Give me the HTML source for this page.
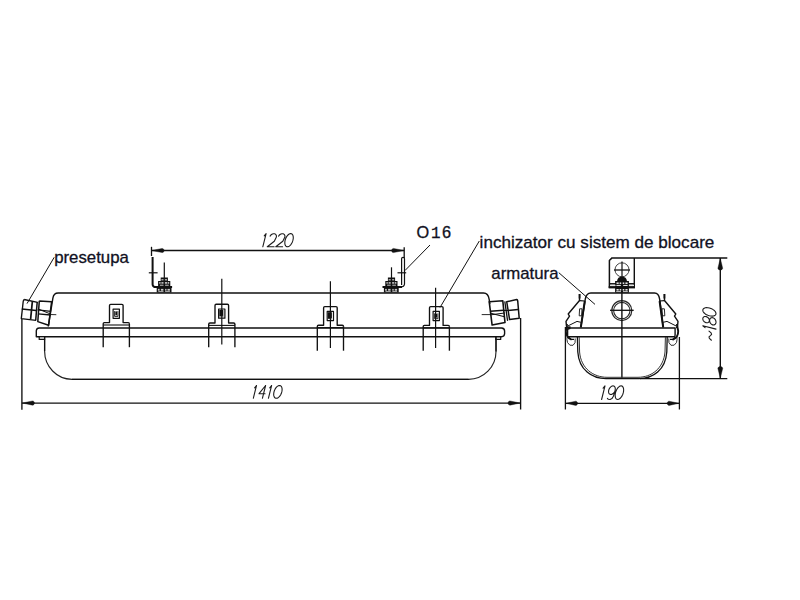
<!DOCTYPE html>
<html><head><meta charset="utf-8">
<style>
html,body{margin:0;padding:0;background:#fff;width:800px;height:600px;overflow:hidden}
svg{display:block;position:absolute;left:0;top:0}
</style></head><body>
<svg width="800" height="600" viewBox="0 0 800 600">
<rect width="800" height="600" fill="#fff"/>
<g fill="none" stroke="#111" stroke-width="1.2" stroke-linecap="butt" stroke-linejoin="round">
<path d="M48.3,326.5 L52.9,298 Q53.7,293 58.2,293 L483.5,293 Q488.3,293 489.2,299.5 L489.8,304" stroke-width="1.45"/>
<path d="M36.3,336.7 L36.3,330.8 Q36.6,328 39.3,328 L501.5,328 Q504.6,328.2 504.6,331 L504.6,333.8 Q504.4,336.7 501.5,336.7 Z" stroke-width="1.4"/>
<path d="M39.2,336.7 L39.2,339.4 L44.6,339.4 L44.6,336.7" stroke-width="1.2"/>
<rect x="40" y="337.3" width="4" height="1.6" fill="#bbb" stroke="none"/>
<path d="M495.8,336.7 L495.8,339.4 L500.7,339.4 L500.7,336.7" stroke-width="1.2"/>
<path d="M44.6,339 L44.6,351 A27.4,28.3 0 0 0 72,379.3 L468.5,379.3 A27.5,27.8 0 0 0 496,351.5 L496,339" stroke-width="1.15" stroke="#222"/>
<line x1="72.00" y1="379.30" x2="468.50" y2="379.30" stroke-width="1.35"/>
<line x1="44.60" y1="337.00" x2="44.60" y2="351.00" stroke-width="1.30"/>
<line x1="496.00" y1="337.00" x2="496.00" y2="351.50" stroke-width="1.30"/>
<path d="M103.20,347.20 L103.20,323.80 Q103.20,322.60 104.40,322.60 L109.50,322.60 L109.50,305.50 Q109.50,304.30 110.70,304.30 L121.90,304.30 Q123.10,304.30 123.10,305.50 L123.10,322.60 L128.20,322.60 Q129.40,322.60 129.40,323.80" stroke-width="1.35"/>
<line x1="129.40" y1="323.60" x2="129.40" y2="347.20" stroke-width="1.35"/>
<line x1="103.20" y1="325.00" x2="129.40" y2="325.00" stroke-width="1.10"/>
<rect x="113.10" y="309.10" width="6.3" height="9.2" stroke-width="1.2"/>
<path d="M114.60,311.10 L114.60,316.40 L117.90,316.40 L117.90,311.10" stroke-width="0.9"/>
<line x1="116.20" y1="311.40" x2="116.20" y2="315.30" stroke-width="1.70"/>
<path d="M208.70,347.20 L208.70,324.20 Q208.70,323.00 209.90,323.00 L215.00,323.00 L215.00,305.40 Q215.00,304.20 216.20,304.20 L227.40,304.20 Q228.60,304.20 228.60,305.40 L228.60,323.00 L233.70,323.00 Q234.90,323.00 234.90,324.20" stroke-width="1.35"/>
<line x1="234.90" y1="324.00" x2="234.90" y2="347.20" stroke-width="1.35"/>
<line x1="208.70" y1="325.40" x2="234.90" y2="325.40" stroke-width="1.10"/>
<rect x="218.60" y="309.00" width="6.3" height="9.2" stroke-width="1.2"/>
<rect x="219.30" y="309.80" width="4" height="6.6" fill="#111" stroke="none"/>
<rect x="221.80" y="315.80" width="1.6" height="1.4" fill="#999" stroke="none"/>
<line x1="221.80" y1="278.80" x2="221.80" y2="344.40" stroke-width="1.20"/>
<path d="M317.30,350.70 L317.30,326.40 Q317.30,325.20 318.50,325.20 L323.60,325.20 L323.60,307.80 Q323.60,306.60 324.80,306.60 L336.00,306.60 Q337.20,306.60 337.20,307.80 L337.20,325.20 L342.30,325.20 Q343.50,325.20 343.50,326.40" stroke-width="1.35"/>
<line x1="343.50" y1="326.20" x2="343.50" y2="350.70" stroke-width="1.35"/>
<line x1="317.30" y1="327.60" x2="343.50" y2="327.60" stroke-width="1.10"/>
<rect x="327.20" y="311.40" width="6.3" height="9.2" stroke-width="1.2"/>
<rect x="327.90" y="312.20" width="4" height="6.6" fill="#111" stroke="none"/>
<rect x="330.40" y="318.20" width="1.6" height="1.4" fill="#999" stroke="none"/>
<line x1="330.40" y1="281.30" x2="330.40" y2="347.90" stroke-width="1.20"/>
<path d="M423.20,350.70 L423.20,326.60 Q423.20,325.40 424.40,325.40 L429.50,325.40 L429.50,307.80 Q429.50,306.60 430.70,306.60 L441.90,306.60 Q443.10,306.60 443.10,307.80 L443.10,325.40 L448.20,325.40 Q449.40,325.40 449.40,326.60" stroke-width="1.35"/>
<line x1="449.40" y1="326.40" x2="449.40" y2="350.70" stroke-width="1.35"/>
<line x1="423.20" y1="327.80" x2="449.40" y2="327.80" stroke-width="1.10"/>
<rect x="433.10" y="311.40" width="6.3" height="9.2" stroke-width="1.2"/>
<path d="M434.60,313.40 L434.60,318.70 L437.90,318.70 L437.90,313.40" stroke-width="0.9"/>
<line x1="436.20" y1="313.70" x2="436.20" y2="317.60" stroke-width="1.70"/>
<line x1="435.60" y1="287.70" x2="435.60" y2="347.90" stroke-width="1.20"/>
<path d="M160.70,277.40 L167.90,277.40 L167.90,281.10 L170.30,281.10 L170.30,286.10 L172.10,286.10 L172.10,287.90 L171.50,287.90 L171.50,292.60 L156.70,292.60 L156.70,287.90 L153.80,287.90 L153.80,286.10 L158.10,286.10 L158.10,281.10 L160.70,281.10 Z" fill="#111" stroke="none"/>
<rect x="161.40" y="279.20" width="2.10" height="1.20" fill="#c8c8c8" stroke="none"/>
<rect x="164.90" y="279.20" width="2.10" height="1.20" fill="#c8c8c8" stroke="none"/>
<rect x="159.20" y="282.10" width="1.40" height="1.60" fill="#c8c8c8" stroke="none"/>
<rect x="161.40" y="282.10" width="2.10" height="1.60" fill="#c8c8c8" stroke="none"/>
<rect x="164.90" y="282.10" width="2.10" height="1.60" fill="#c8c8c8" stroke="none"/>
<rect x="167.60" y="282.10" width="1.60" height="1.60" fill="#c8c8c8" stroke="none"/>
<rect x="159.90" y="284.70" width="3.60" height="1.00" fill="#c8c8c8" stroke="none"/>
<rect x="165.10" y="284.70" width="3.60" height="1.00" fill="#c8c8c8" stroke="none"/>
<rect x="157.90" y="288.90" width="1.70" height="1.80" fill="#c8c8c8" stroke="none"/>
<rect x="160.90" y="288.90" width="2.50" height="1.80" fill="#c8c8c8" stroke="none"/>
<rect x="165.10" y="288.90" width="1.40" height="1.80" fill="#c8c8c8" stroke="none"/>
<rect x="167.50" y="288.90" width="2.40" height="1.80" fill="#c8c8c8" stroke="none"/>
<rect x="158.30" y="291.00" width="5.20" height="0.80" fill="#c8c8c8" stroke="none"/>
<rect x="165.10" y="291.00" width="4.80" height="0.80" fill="#c8c8c8" stroke="none"/>
<line x1="164.30" y1="262.50" x2="164.30" y2="278.00" stroke-width="1.20"/>
<path d="M387.90,277.40 L395.10,277.40 L395.10,281.10 L397.50,281.10 L397.50,286.10 L402.00,286.10 L402.00,287.90 L398.70,287.90 L398.70,292.60 L383.90,292.60 L383.90,287.90 L382.50,287.90 L382.50,286.10 L385.30,286.10 L385.30,281.10 L387.90,281.10 Z" fill="#111" stroke="none"/>
<rect x="388.60" y="279.20" width="2.10" height="1.20" fill="#c8c8c8" stroke="none"/>
<rect x="392.10" y="279.20" width="2.10" height="1.20" fill="#c8c8c8" stroke="none"/>
<rect x="386.40" y="282.10" width="1.40" height="1.60" fill="#c8c8c8" stroke="none"/>
<rect x="388.60" y="282.10" width="2.10" height="1.60" fill="#c8c8c8" stroke="none"/>
<rect x="392.10" y="282.10" width="2.10" height="1.60" fill="#c8c8c8" stroke="none"/>
<rect x="394.80" y="282.10" width="1.60" height="1.60" fill="#c8c8c8" stroke="none"/>
<rect x="387.10" y="284.70" width="3.60" height="1.00" fill="#c8c8c8" stroke="none"/>
<rect x="392.30" y="284.70" width="3.60" height="1.00" fill="#c8c8c8" stroke="none"/>
<rect x="385.10" y="288.90" width="1.70" height="1.80" fill="#c8c8c8" stroke="none"/>
<rect x="388.10" y="288.90" width="2.50" height="1.80" fill="#c8c8c8" stroke="none"/>
<rect x="392.30" y="288.90" width="1.40" height="1.80" fill="#c8c8c8" stroke="none"/>
<rect x="394.70" y="288.90" width="2.40" height="1.80" fill="#c8c8c8" stroke="none"/>
<rect x="385.50" y="291.00" width="5.20" height="0.80" fill="#c8c8c8" stroke="none"/>
<rect x="392.30" y="291.00" width="4.80" height="0.80" fill="#c8c8c8" stroke="none"/>
<line x1="391.50" y1="267.30" x2="391.50" y2="278.00" stroke-width="1.20"/>
<path d="M152.6,257 L152.6,284.5 Q152.8,287 155.5,287" stroke-width="2.0"/>
<line x1="148.80" y1="272.80" x2="157.60" y2="272.80" stroke-width="1.20"/>
<path d="M401.6,285 L401.6,258.8 Q401.6,257.4 403,257.4 Q404.5,257.4 404.5,258.8 L404.5,284 Q404.3,287 400.5,287" stroke-width="1.2"/>
<line x1="397.50" y1="272.80" x2="406.20" y2="272.80" stroke-width="1.20"/>
<g stroke-linejoin="round">
<path d="M24.2,299.5 L37.6,302.3 M24.2,299.5 Q23.4,300.2 23.2,301.5 L21.3,318.6 L36,320.4" stroke-width="1.35"/>
<line x1="32.40" y1="301.20" x2="30.60" y2="319.20" stroke-width="1.70"/>
<line x1="37.20" y1="302.00" x2="35.70" y2="320.40" stroke-width="1.50"/>
<line x1="21.80" y1="309.00" x2="36.20" y2="310.50" stroke-width="1.60"/>
<path d="M39.3,300.9 L51.6,301.8 L48.6,325.2 L37.8,321.6 L39.3,300.9" stroke-width="1.5"/>
<line x1="37.60" y1="309.90" x2="51.00" y2="311.40" stroke-width="1.40"/>
<line x1="38.00" y1="313.80" x2="50.50" y2="315.00" stroke-width="1.30"/>
<line x1="39.00" y1="309.30" x2="50.00" y2="313.80" stroke-width="1.00"/>
</g>
<line x1="49.50" y1="314.50" x2="56.30" y2="314.70" stroke-width="0.90"/>
<g stroke-linejoin="round">
<path d="M489.2,301.7 L502.8,300.8 L505,322.5 L492.1,325 Z" stroke-width="1.6"/>
<line x1="490.30" y1="311.20" x2="503.80" y2="310.20" stroke-width="1.50"/>
<line x1="490.80" y1="313.30" x2="504.50" y2="316.80" stroke-width="1.10"/>
<line x1="491.00" y1="314.80" x2="504.60" y2="313.00" stroke-width="1.00"/>
<line x1="504.80" y1="301.40" x2="507.60" y2="320.80" stroke-width="1.30"/>
<line x1="503.50" y1="310.30" x2="508.50" y2="310.50" stroke-width="1.20"/>
<path d="M506.7,301.7 L516.7,299.6 Q517.5,299.8 517.7,300.8 L519.2,318.3 L509.6,319.6 Z" stroke-width="1.5"/>
<line x1="508.20" y1="310.50" x2="518.00" y2="309.60" stroke-width="1.50"/>
</g>
<line x1="481.70" y1="314.60" x2="491.00" y2="314.60" stroke-width="0.90"/>
<line x1="21.90" y1="319.00" x2="21.90" y2="409.70" stroke-width="1.35"/>
<line x1="520.60" y1="318.00" x2="520.60" y2="409.50" stroke-width="1.35"/>
<line x1="21.90" y1="403.05" x2="520.60" y2="403.05" stroke-width="1.35"/>
<path d="M22.30,403.05 L32.54,400.95 C35.10,401.16 35.10,404.94 32.54,405.15 Z" fill="#111" stroke="#111" stroke-width="0.4"/>
<path d="M520.20,403.05 L509.96,405.15 C507.40,404.94 507.40,401.16 509.96,400.95 Z" fill="#111" stroke="#111" stroke-width="0.4"/>
<line x1="151.50" y1="246.80" x2="151.50" y2="256.00" stroke-width="1.30"/>
<line x1="404.20" y1="247.30" x2="404.20" y2="258.00" stroke-width="1.30"/>
<line x1="151.50" y1="250.50" x2="404.20" y2="250.50" stroke-width="1.35"/>
<path d="M151.90,250.50 L162.14,248.40 C164.70,248.61 164.70,252.39 162.14,252.60 Z" fill="#111" stroke="#111" stroke-width="0.4"/>
<path d="M403.80,250.50 L393.56,252.60 C391.00,252.39 391.00,248.61 393.56,248.40 Z" fill="#111" stroke="#111" stroke-width="0.4"/>
<path d="M609.4,288 L609.4,260.5 L612,257.9 L727.3,257.9" stroke-width="1.5"/>
<line x1="634.30" y1="257.90" x2="634.30" y2="288.00" stroke-width="1.40"/>
<line x1="609.40" y1="283.80" x2="634.30" y2="283.80" stroke-width="1.50"/>
<rect x="608.7" y="286.1" width="26.3" height="2.3" fill="#111" stroke="none"/>
<circle cx="622" cy="269.8" r="7.0" stroke-width="1.0" stroke="#444"/>
<line x1="614.00" y1="270.00" x2="630.00" y2="270.00" stroke-width="1.30"/>
<path d="M617,281.2 Q617.5,276.8 622,276.8 Q626.5,276.8 627,281.2 Z" fill="#111" stroke="none"/>
<rect x="615.1" y="281" width="13.8" height="11.6" fill="#111" stroke="none"/>
<rect x="616.50" y="282.40" width="2.20" height="1.60" fill="#e4e4e4" stroke="none"/>
<rect x="619.60" y="282.40" width="1.60" height="1.60" fill="#e4e4e4" stroke="none"/>
<rect x="622.70" y="282.40" width="1.60" height="1.60" fill="#e4e4e4" stroke="none"/>
<rect x="625.40" y="282.40" width="2.20" height="1.60" fill="#e4e4e4" stroke="none"/>
<rect x="610.50" y="284.90" width="5.00" height="1.10" fill="#e4e4e4" stroke="none"/>
<rect x="616.40" y="284.90" width="4.40" height="1.10" fill="#e4e4e4" stroke="none"/>
<rect x="623.20" y="284.90" width="4.40" height="1.10" fill="#e4e4e4" stroke="none"/>
<rect x="629.00" y="284.90" width="5.00" height="1.10" fill="#e4e4e4" stroke="none"/>
<rect x="616.50" y="289.00" width="2.20" height="1.60" fill="#e4e4e4" stroke="none"/>
<rect x="619.60" y="289.00" width="1.60" height="1.60" fill="#e4e4e4" stroke="none"/>
<rect x="622.70" y="289.00" width="1.60" height="1.60" fill="#e4e4e4" stroke="none"/>
<rect x="625.40" y="289.00" width="2.20" height="1.60" fill="#e4e4e4" stroke="none"/>
<rect x="616.20" y="291.20" width="4.80" height="0.80" fill="#e4e4e4" stroke="none"/>
<rect x="623.00" y="291.20" width="4.80" height="0.80" fill="#e4e4e4" stroke="none"/>
<line x1="622.00" y1="261.50" x2="622.00" y2="277.00" stroke-width="1.20"/>
<path d="M580.8,327.3 L585.3,299 Q586.5,293 590.8,293 L654.5,293 Q658.7,293 659.6,299 L663.2,327.3" stroke-width="1.45"/>
<path d="M584.8,301 L580.8,327.3 M659.6,301 L663.2,327.3" stroke-width="2.0"/>
<circle cx="621.8" cy="310.6" r="10.0" stroke-width="1.2" stroke="#2a2a2a"/>
<circle cx="621.8" cy="310.6" r="8.2" stroke-width="1.1" stroke="#2a2a2a"/>
<line x1="610.00" y1="310.30" x2="633.70" y2="310.30" stroke-width="1.30"/>
<line x1="621.90" y1="292.00" x2="621.90" y2="378.00" stroke-width="1.40"/>
<path d="M567.6,336.7 L567.6,329.3 Q567.8,328 569.2,328 L675.1,328 L675.1,335.2 Q675,336.7 673.5,336.7 Z" stroke-width="1.4"/>
<path d="M567.2,326.5 L570.5,326.2 L570.5,329 L567.2,330 Z" fill="#111" stroke="none"/>
<path d="M577.4,337 L577.8,352 C579,370 592,378.7 606,378.7 L639,378.7 C653,378.7 665.5,370 666.8,352 L667.2,337" stroke-width="1.3" stroke="#111"/>
<path d="M579.2,337 L579.6,352 C580.9,368.5 593.5,377.3 607,377.3 L638,377.3 C651.5,377.3 663.5,368.5 665,352 L665.4,337" stroke-width="1.0" stroke="#333"/>
<path d="M579.50,294 L579.50,300.5 L568.20,314 L569.50,316.2 L566.00,321.4 L566.50,326.2 L567.60,328" stroke-width="1.4"/>
<path d="M579.50,300.6 L584.70,301" stroke-width="1.2"/>
<path d="M567.80,326 L577.00,321.4 L580.80,322.3" stroke-width="1.0"/>
<path d="M579.60,308.8 L582.00,308.8 L581.60,315.8 L579.20,315.8 Z" stroke-width="0.9"/>
<path d="M579.60,294 L579.60,298.5" stroke-width="1.8"/>
<path d="M567.20,336.8 Q566.50,339 567.50,342.5 Q569.50,346.5 573.00,345.3 Q576.00,343.5 575.20,338.5" stroke-width="1.0" stroke="#333"/>
<path d="M568.50,337 L571.00,339.3 L574.00,339.3" stroke-width="1.3"/>
<path d="M664.50,294 L664.50,300.5 L675.80,314 L674.50,316.2 L678.00,321.4 L677.50,326.2 L676.40,328" stroke-width="1.4"/>
<path d="M664.50,300.6 L659.30,301" stroke-width="1.2"/>
<path d="M676.20,326 L667.00,321.4 L663.20,322.3" stroke-width="1.0"/>
<path d="M664.40,308.8 L662.00,308.8 L662.40,315.8 L664.80,315.8 Z" stroke-width="0.9"/>
<path d="M664.40,294 L664.40,298.5" stroke-width="1.8"/>
<path d="M676.80,336.8 Q677.50,339 676.50,342.5 Q674.50,346.5 671.00,345.3 Q668.00,343.5 668.80,338.5" stroke-width="1.0" stroke="#333"/>
<path d="M675.50,337 L673.00,339.3 L670.00,339.3" stroke-width="1.3"/>
<line x1="565.40" y1="327.00" x2="565.40" y2="409.50" stroke-width="1.30"/>
<line x1="679.40" y1="337.00" x2="679.40" y2="409.50" stroke-width="1.30"/>
<path d="M676.8,324 L678.2,331 Q678.4,337.5 672.5,339.8" stroke-width="1.9"/>
<path d="M567.2,324 L566,331 Q565.8,337.5 571.5,339.8" stroke-width="1.6"/>
<line x1="565.40" y1="403.30" x2="679.40" y2="403.30" stroke-width="1.35"/>
<path d="M565.80,403.30 L575.72,401.20 C578.20,401.41 578.20,405.19 575.72,405.40 Z" fill="#111" stroke="#111" stroke-width="0.4"/>
<path d="M679.00,403.30 L669.08,405.40 C666.60,405.19 666.60,401.41 669.08,401.20 Z" fill="#111" stroke="#111" stroke-width="0.4"/>
<line x1="640.00" y1="378.70" x2="727.30" y2="378.70" stroke-width="1.30"/>
<line x1="720.30" y1="257.90" x2="720.30" y2="378.70" stroke-width="1.40"/>
<path d="M720.30,258.30 L722.70,268.14 C722.46,270.60 718.14,270.60 717.90,268.14 Z" fill="#111" stroke="#111" stroke-width="0.4"/>
<path d="M720.30,378.30 L717.90,368.46 C718.14,366.00 722.46,366.00 722.70,368.46 Z" fill="#111" stroke="#111" stroke-width="0.4"/>
<line x1="54.20" y1="257.30" x2="27.00" y2="303.60" stroke-width="1.00"/>
<line x1="430.00" y1="245.00" x2="405.00" y2="270.50" stroke-width="1.00"/>
<line x1="479.30" y1="241.00" x2="440.00" y2="307.50" stroke-width="1.00"/>
<line x1="558.80" y1="272.70" x2="595.00" y2="304.40" stroke-width="1.00"/>
</g>
<g fill="none" stroke="#1c1c1c" stroke-width="1.1" stroke-linejoin="round" stroke-linecap="round">
<path d="M254.62,387.80 L256.50,385.50 L253.30,398.30 M265.05,393.70 L259.05,393.70 L265.60,385.50 L262.40,398.30 M269.72,387.80 L271.60,385.50 L268.40,398.30 M281.80,391.90 L282.06,390.48 L282.11,389.12 L281.95,387.91 L281.58,386.90 L281.03,386.13 L280.33,385.66 L279.50,385.50 L278.59,385.66 L277.65,386.13 L276.72,386.90 L275.85,387.91 L275.08,389.12 L274.45,390.48 L274.00,391.90 L273.74,393.32 L273.69,394.68 L273.85,395.89 L274.22,396.90 L274.77,397.67 L275.47,398.14 L276.30,398.30 L277.21,398.14 L278.15,397.67 L279.08,396.90 L279.95,395.89 L280.72,394.68 L281.35,393.32 Z"/>
<path d="M264.23,235.90 L266.10,233.60 L262.80,246.80 M270.08,236.15 L270.69,235.25 L271.51,234.51 L272.46,233.99 L273.47,233.72 L274.44,233.75 L275.28,234.06 L275.94,234.63 L276.34,235.40 L276.45,236.31 L276.27,237.29 L274.30,241.20 L267.30,246.80 L274.10,246.80 M278.58,236.15 L279.19,235.25 L280.01,234.51 L280.96,233.99 L281.97,233.72 L282.94,233.75 L283.78,234.06 L284.44,234.63 L284.84,235.40 L284.95,236.31 L284.77,237.29 L282.80,241.20 L275.80,246.80 L282.60,246.80 M292.95,240.20 L293.22,238.73 L293.28,237.34 L293.13,236.08 L292.77,235.04 L292.23,234.25 L291.53,233.77 L290.70,233.60 L289.79,233.77 L288.84,234.25 L287.91,235.04 L287.03,236.08 L286.25,237.34 L285.61,238.73 L285.15,240.20 L284.88,241.67 L284.82,243.06 L284.97,244.32 L285.33,245.36 L285.87,246.15 L286.57,246.63 L287.40,246.80 L288.31,246.63 L289.26,246.15 L290.19,245.36 L291.07,244.32 L291.85,243.06 L292.49,241.67 Z"/>
<path d="M603.12,388.20 L605.00,385.90 L601.60,399.50 M615.12,390.20 L615.28,389.24 L615.27,388.33 L615.10,387.52 L614.76,386.84 L614.28,386.33 L613.69,386.01 L613.00,385.90 L612.26,386.01 L611.51,386.33 L610.77,386.84 L610.09,387.52 L609.51,388.33 L609.04,389.24 L608.73,390.20 L608.57,391.16 L608.58,392.07 L608.75,392.88 L609.09,393.56 L609.57,394.07 L610.16,394.39 L610.85,394.50 L611.59,394.39 L612.34,394.07 L613.08,393.56 L613.76,392.88 L614.34,392.07 L614.81,391.16 Z M615.12,390.20 L613.40,396.30 L611.92,398.60 L610.10,399.50 L608.35,399.30 L607.40,398.30 M623.30,392.70 L623.58,391.19 L623.65,389.75 L623.51,388.46 L623.16,387.38 L622.62,386.57 L621.93,386.07 L621.10,385.90 L620.19,386.07 L619.24,386.57 L618.30,387.38 L617.41,388.46 L616.62,389.75 L615.98,391.19 L615.50,392.70 L615.22,394.21 L615.15,395.65 L615.29,396.94 L615.64,398.02 L616.18,398.83 L616.87,399.33 L617.70,399.50 L618.61,399.33 L619.56,398.83 L620.50,398.02 L621.39,396.94 L622.18,395.65 L622.82,394.21 Z"/>
<g transform="translate(716,342) rotate(-90)"><path d="M1.75,-4.60 L3.55,-6.60 L5.15,-7.00 L6.40,-5.60 L7.60,-4.40 L9.12,-4.90 L10.95,-7.00 M14.32,-10.90 L16.20,-13.20 L12.90,0.00 M25.38,-9.90 L25.48,-10.63 L25.44,-11.33 L25.23,-11.96 L24.89,-12.48 L24.42,-12.87 L23.85,-13.12 L23.20,-13.20 L22.51,-13.12 L21.82,-12.87 L21.15,-12.48 L20.54,-11.96 L20.03,-11.33 L19.63,-10.63 L19.38,-9.90 L19.27,-9.17 L19.31,-8.47 L19.52,-7.84 L19.86,-7.32 L20.33,-6.93 L20.90,-6.68 L21.55,-6.60 L22.24,-6.68 L22.93,-6.93 L23.60,-7.32 L24.21,-7.84 L24.72,-8.47 L25.12,-9.17 Z M24.30,-3.20 L24.39,-3.91 L24.29,-4.59 L24.01,-5.20 L23.57,-5.70 L22.98,-6.08 L22.28,-6.32 L21.50,-6.40 L20.68,-6.32 L19.86,-6.08 L19.08,-5.70 L18.38,-5.20 L17.80,-4.59 L17.37,-3.91 L17.10,-3.20 L17.01,-2.49 L17.11,-1.81 L17.39,-1.20 L17.83,-0.70 L18.42,-0.32 L19.12,-0.08 L19.90,0.00 L20.72,-0.08 L21.54,-0.32 L22.32,-0.70 L23.02,-1.20 L23.60,-1.81 L24.03,-2.49 Z M34.00,-6.60 L34.27,-8.07 L34.33,-9.46 L34.18,-10.72 L33.82,-11.76 L33.28,-12.55 L32.58,-13.03 L31.75,-13.20 L30.84,-13.03 L29.89,-12.55 L28.96,-11.76 L28.08,-10.72 L27.30,-9.46 L26.66,-8.07 L26.20,-6.60 L25.93,-5.13 L25.87,-3.74 L26.02,-2.48 L26.38,-1.44 L26.92,-0.65 L27.62,-0.17 L28.45,0.00 L29.36,-0.17 L30.31,-0.65 L31.24,-1.44 L32.12,-2.48 L32.90,-3.74 L33.54,-5.13 Z"/></g>
</g>
<g font-family="Liberation Sans, sans-serif" fill="#111122" stroke="#111122" stroke-width="0.3">
<text x="54.2" y="262.7" font-size="16.2" textLength="74.6" lengthAdjust="spacingAndGlyphs">presetupa</text>
<text x="479.6" y="248.3" font-size="16.4" textLength="234.8" lengthAdjust="spacingAndGlyphs">inchizator cu sistem de blocare</text>
<text x="491.3" y="278.7" font-size="16.2" textLength="67.2" lengthAdjust="spacingAndGlyphs">armatura</text>
<text x="416.5" y="237.9" font-size="16.3">O</text>
<text x="442.0" y="237.9" font-size="16.3">6</text>
</g>
<text x="431.0" y="237.9" font-family="Liberation Mono, monospace" font-size="15.9" fill="#111122" stroke="#111122" stroke-width="0.3">1</text>
</svg>
</body></html>
